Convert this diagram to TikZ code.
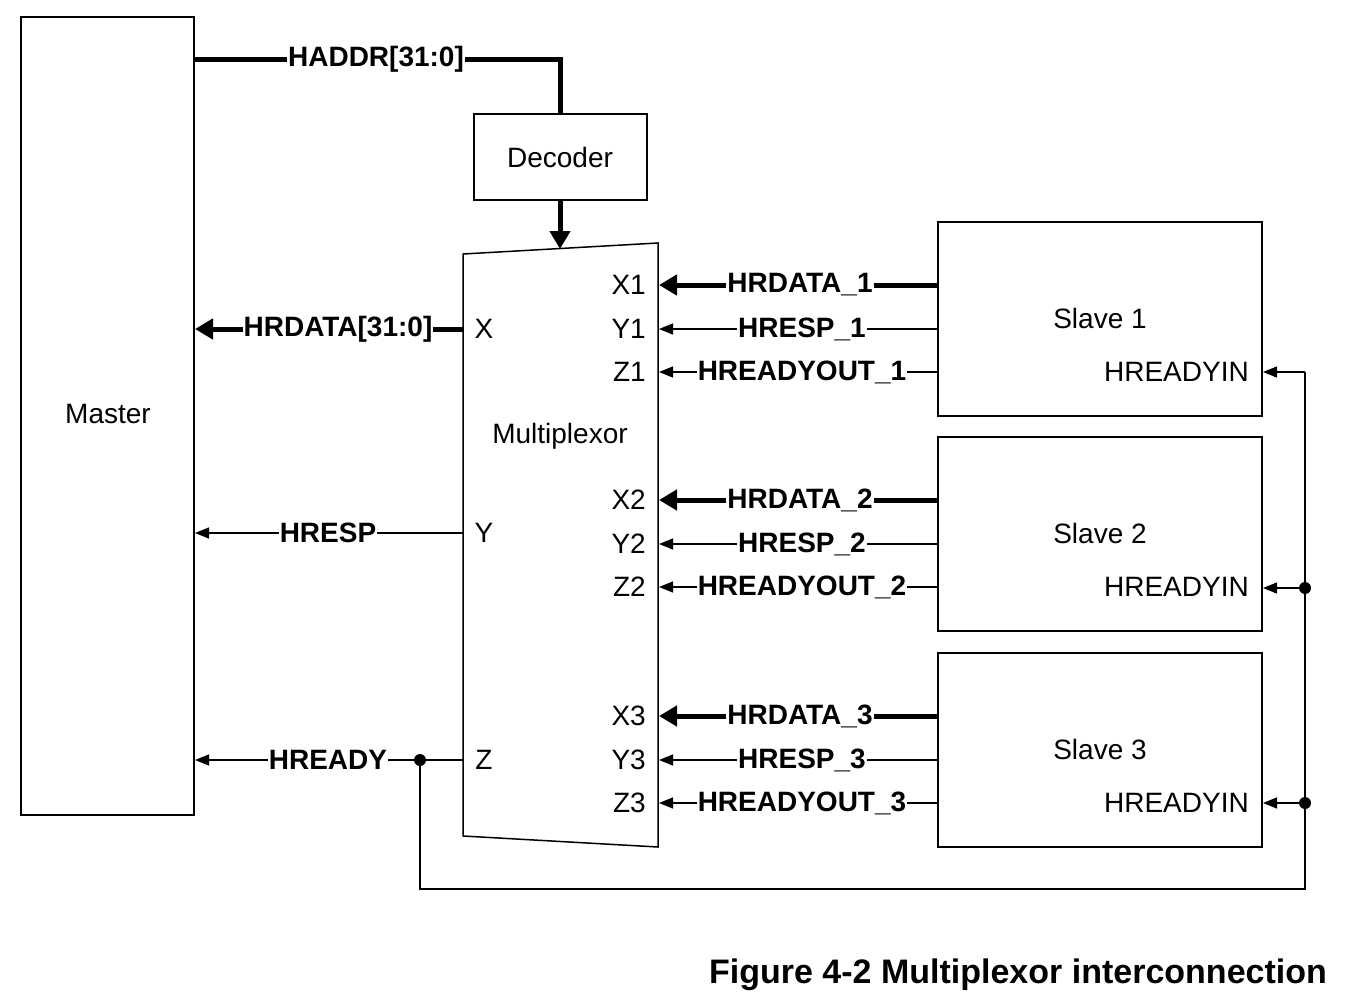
\documentclass[tikz,border=0pt]{standalone}
\usepackage{fontspec}
\setmainfont{Liberation Sans}
\usetikzlibrary{arrows.meta}
\begin{document}
\begin{tikzpicture}[x=1pt,y=-1pt,
  box/.style={draw,line width=1.5pt},
  thin/.style={line width=1.3pt,-{Triangle[length=14pt,width=11pt]}},
  thick/.style={line width=5pt,-{Triangle[length=18pt,width=20pt]}},
  lab/.style={font=\fontsize{28}{30}\selectfont\bfseries,fill=white,inner sep=1pt},
  txt/.style={font=\fontsize{28}{30}\selectfont,inner sep=1pt},
  dot/.style={circle,fill,inner sep=0pt,minimum size=12pt}]
\useasboundingbox (0,0) rectangle (1345,996);
% boxes
\draw[box] (21,17) rectangle (194,815);
\node[txt] (master) at (108,414) {Master};
\draw[box] (474,114) rectangle (647,200);
\node[txt] (dec) at (560,157) {Decoder};
\draw[box] (463,254) -- (658,243) -- (658,847) -- (463,836) -- cycle;
\node[txt] (mux) at (560,436) {Multiplexor};
\foreach \i/\t/\b in {1/222/416,2/437/631,3/653/847}{
  \draw[box] (938,\t) rectangle (1262,\b);
}
\node[txt] at (1100,318) {Slave 1};
\node[txt] at (1100,533) {Slave 2};
\node[txt] at (1100,749) {Slave 3};
\node[txt,anchor=east] at (1250,372) {HREADYIN};
\node[txt,anchor=east] at (1250,587) {HREADYIN};
\node[txt,anchor=east] at (1250,803) {HREADYIN};
% mux ports
\node[txt] at (484,329) {X};
\node[txt] at (484,533) {Y};
\node[txt] at (484,760) {Z};
\foreach \n/\y in {X1/285,Y1/329,Z1/372,X2/500,Y2/544,Z2/587,X3/716,Y3/760,Z3/803}{
  \node[txt,anchor=east] at (647,\y) {\n};
}
% HADDR
\draw[line width=5pt] (194,59) -- (560,59) -- (560,114);
\node[lab] at (376,59) {HADDR[31:0]};
\draw[thick] (560,200) -- (560,249);
% master side
\draw[thick] (463,329) -- (195,329);
\node[lab] at (338,329) {HRDATA[31:0]};
\draw[thin] (463,533) -- (195,533);
\node[lab] at (328,533) {HRESP};
\draw[thin] (463,760) -- (195,760);
\node[lab] at (328,760) {HREADY};
\node[dot] (d0) at (420,760) {};
\draw[line width=1.3pt] (d0.center) -- (420,889) -- (1305,889) -- (1305,372);
\draw[thin] (1305,372) -- (1263,372);
\node[dot] (d2) at (1305,588) {};
\node[dot] (d3) at (1305,803) {};
\draw[thin] (d2.center) -- (1263,588);
\draw[thin] (d3.center) -- (1263,803);
% slave side
\foreach \k/\a/\b/\c in {1/285/329/372,2/500/544/587,3/716/760/803}{
  \draw[thick] (938,\a) -- (659,\a);
  \node[lab] at (800,\a) {HRDATA\_\k};
  \draw[thin] (938,\b) -- (659,\b);
  \node[lab] at (802,\b) {HRESP\_\k};
  \draw[thin] (938,\c) -- (659,\c);
  \node[lab] at (802,\c) {HREADYOUT\_\k};
}
\node[font=\fontsize{34}{36}\selectfont\bfseries] at (1018,975) {Figure 4-2 Multiplexor interconnection};
\end{tikzpicture}
\end{document}
